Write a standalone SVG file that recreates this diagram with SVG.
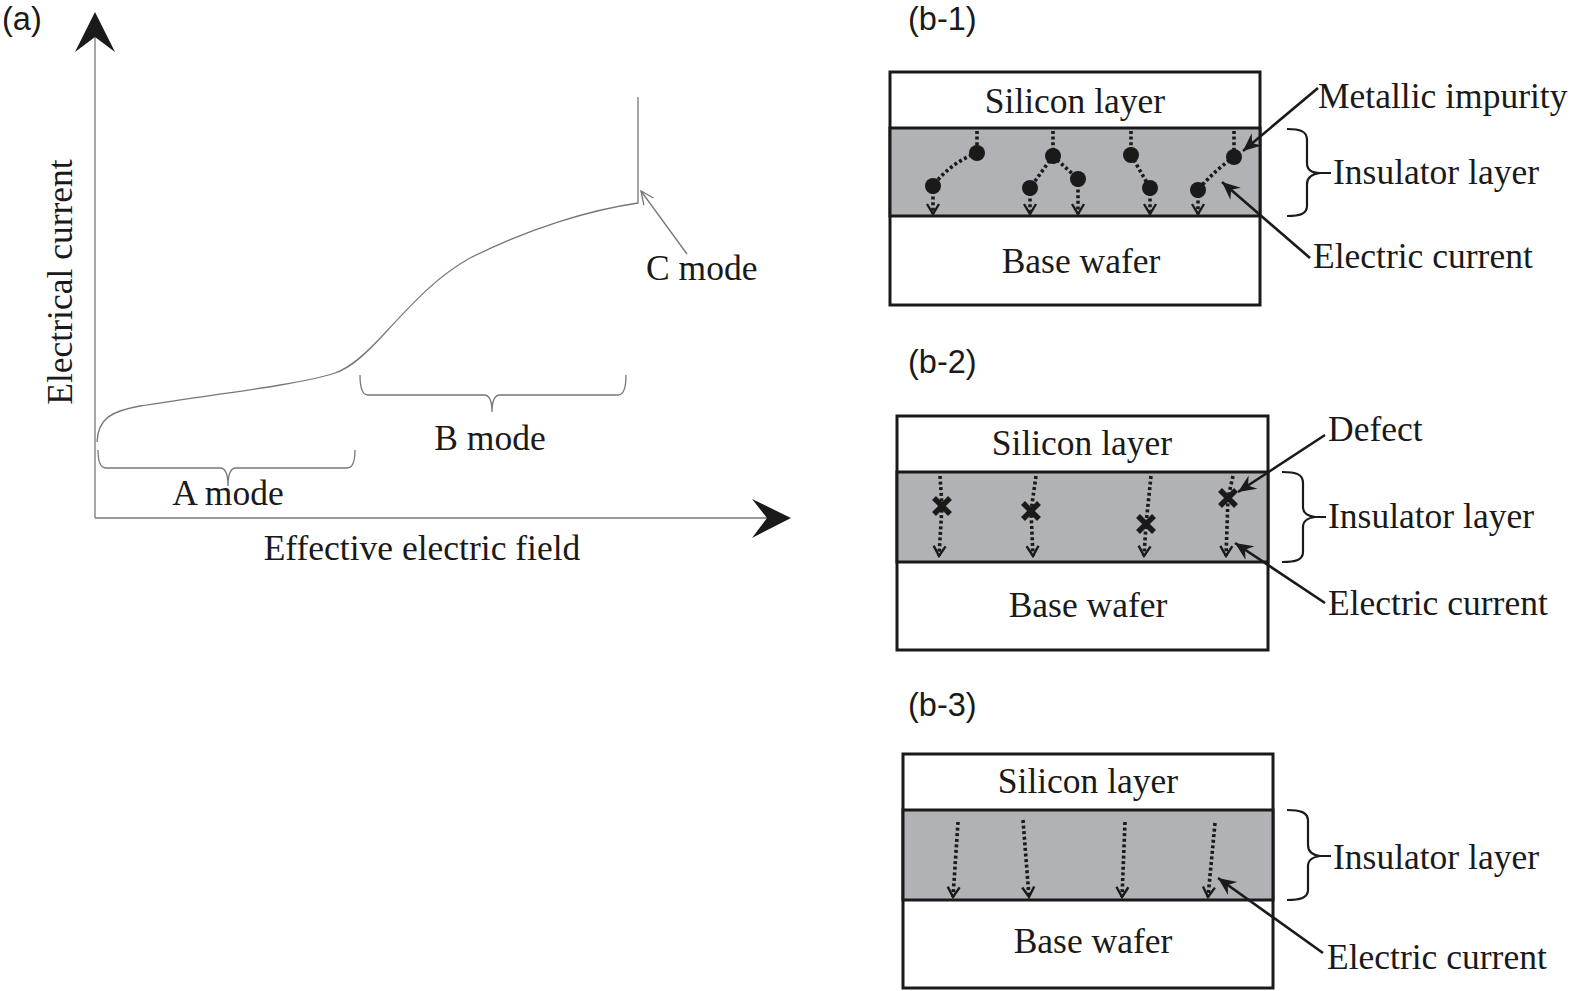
<svg xmlns="http://www.w3.org/2000/svg" width="1571" height="991" viewBox="0 0 1571 991">
<style>
.serif{font-family:"Liberation Serif","Times New Roman",serif;font-size:35.5px;fill:#1a1a1a}
.sans{font-family:"Liberation Sans",Arial,sans-serif;font-size:32.5px;fill:#1a1a1a}
.mid{text-anchor:middle}
.thin{fill:none;stroke:#777;stroke-width:1.3}
.box{fill:#fff;stroke:#1a1a1a;stroke-width:3}
.ins{fill:#b1b2b5;stroke:#1a1a1a;stroke-width:3}
.dot{fill:none;stroke:#1a1a1a;stroke-width:3.6;stroke-dasharray:3 2.6}
.darr{fill:none;stroke:#1a1a1a;stroke-width:3.6;stroke-dasharray:3 2.6;marker-end:url(#chev)}
.lead{fill:none;stroke:#1a1a1a;stroke-width:2.6;marker-end:url(#stealth)}
.brace{fill:none;stroke:#1a1a1a;stroke-width:2.2}
.imp{fill:#1a1a1a}
.xm{stroke:#1a1a1a;stroke-width:5.5;stroke-linecap:butt}
</style>
<defs>
<marker id="chev" markerUnits="userSpaceOnUse" viewBox="-14 -9 16 18" refX="0" refY="0" markerWidth="16" markerHeight="18" orient="auto">
<path d="M-10,-6 L0,0 L-10,6" fill="none" stroke="#1a1a1a" stroke-width="2.4"/>
</marker>
<marker id="stealth" markerUnits="userSpaceOnUse" viewBox="-20 -10 22 20" refX="0" refY="0" markerWidth="22" markerHeight="20" orient="auto">
<path d="M0,0 L-18,-8 L-12,0 L-18,8 Z" fill="#1a1a1a"/>
</marker>
<marker id="openg" markerUnits="userSpaceOnUse" viewBox="-16 -8 18 16" refX="0" refY="0" markerWidth="18" markerHeight="16" orient="auto">
<path d="M-13,-6 L0,0 L-13,6" fill="none" stroke="#777" stroke-width="1.3"/>
</marker>
</defs>

<g id="panel-a">
<text class="sans" x="2" y="30">(a)</text>
<g id="axes">
<line class="thin" x1="95" y1="36" x2="95" y2="518"/>
<line class="thin" x1="95" y1="518" x2="768" y2="518"/>
<path d="M95,12 L115,52 L95,37 L75,52 Z" fill="#1a1a1a"/>
<path d="M791,518 L752,538 L767,518 L752,499 Z" fill="#1a1a1a"/>
</g>
<text class="serif mid" transform="translate(72,282) rotate(-90)">Electrical current</text>
<text class="serif mid" x="422" y="560">Effective electric field</text>
<path id="curve" class="thin" d="M97,442 C98,418 112,411 140,406 C200,396 300,385 335,373 C350,368 365,355 385,333 C420,295 440,275 470,258 C530,228 590,210 638,203 L638,97"/>
<path id="brace-a" class="thin" d="M98,450 Q98,468 106,468 L220,468 Q228,468 228,486 Q228,468 236,468 L347,468 Q355,468 355,450"/>
<path id="brace-b" class="thin" d="M360,375 Q360,395 368,395 L484,395 Q492,395 492,412 Q492,395 500,395 L618,395 Q626,395 626,375"/>
<text class="serif mid" x="228" y="505">A mode</text>
<text class="serif mid" x="490" y="450">B mode</text>
<line class="thin" x1="687" y1="254" x2="641" y2="191" marker-end="url(#openg)"/>
<text class="serif" x="646" y="280">C mode</text>
</g>

<g id="panel-b1">
<text class="sans" x="908" y="30">(b-1)</text>
<rect class="box" x="890" y="72" width="370" height="233"/>
<rect class="ins" x="890" y="128" width="370" height="88"/>
<text class="serif mid" x="1075" y="113">Silicon layer</text>
<text class="serif mid" x="1081" y="273">Base wafer</text>
<g id="paths-b1">
<path class="dot" d="M977,131 L977,150"/>
<path class="dot" d="M977,153 Q950,163 933,186"/>
<path class="darr" d="M933,191 L933,214"/>
<path class="dot" d="M1053,131 L1053,152"/>
<path class="dot" d="M1053,156 L1030,188"/>
<path class="dot" d="M1053,156 L1078,179"/>
<path class="darr" d="M1030,193 L1030,214"/>
<path class="darr" d="M1078,184 L1078,214"/>
<path class="dot" d="M1131,131 L1131,152"/>
<path class="dot" d="M1131,155 L1150,188"/>
<path class="darr" d="M1150,193 L1150,214"/>
<path class="dot" d="M1234,131 L1234,154"/>
<path class="dot" d="M1234,157 Q1215,170 1198,190"/>
<path class="darr" d="M1198,195 L1198,214"/>
</g>
<circle class="imp" cx="977" cy="153" r="8"/>
<circle class="imp" cx="933" cy="186" r="8"/>
<circle class="imp" cx="1053" cy="156" r="8"/>
<circle class="imp" cx="1030" cy="188" r="8"/>
<circle class="imp" cx="1078" cy="179" r="8"/>
<circle class="imp" cx="1131" cy="155" r="8"/>
<circle class="imp" cx="1150" cy="188" r="8"/>
<circle class="imp" cx="1234" cy="157" r="8"/>
<circle class="imp" cx="1198" cy="190" r="8"/>
<path class="brace" d="M1287,129 C1300,129 1307,131 1307,140 L1307,163 C1307,170 1312,173 1320,173 L1331,173 M1320,173 C1312,174 1307,177 1307,184 L1307,206 C1307,214 1300,216 1287,216"/>
<path class="lead" d="M1318,88 L1243,151"/>
<path class="lead" d="M1310,258 L1222,182"/>
<text class="serif" x="1318" y="108">Metallic impurity</text>
<text class="serif" x="1333" y="184">Insulator layer</text>
<text class="serif" x="1313" y="268">Electric current</text>
</g>

<g id="panel-b2">
<text class="sans" x="908" y="373">(b-2)</text>
<rect class="box" x="897" y="416" width="371" height="234"/>
<rect class="ins" x="897" y="472" width="371" height="90"/>
<text class="serif mid" x="1082" y="455">Silicon layer</text>
<text class="serif mid" x="1088" y="617">Base wafer</text>
<g id="paths-b2">
<path class="darr" d="M940,476 L942,506 L939,556"/>
<path class="darr" d="M1036,476 L1031,511 L1033,556"/>
<path class="darr" d="M1151,476 L1146,524 L1144,556"/>
<path class="darr" d="M1233,476 L1228,498 L1226,556"/>
</g>
<g id="defects">
<path class="xm" d="M934,498 L950,514 M950,498 L934,514"/>
<path class="xm" d="M1023,503 L1039,519 M1039,503 L1023,519"/>
<path class="xm" d="M1138,516 L1154,532 M1154,516 L1138,532"/>
<path class="xm" d="M1220,490 L1236,506 M1236,490 L1220,506"/>
</g>
<path class="brace" d="M1282,472 C1296,472 1303,474 1303,483 L1303,507 C1303,514 1308,516 1315,517 L1326,517 M1315,517 C1308,518 1303,520 1303,527 L1303,552 C1303,560 1296,562 1282,562"/>
<path class="lead" d="M1325,435 L1238,492"/>
<path class="lead" d="M1325,603 L1235,543"/>
<text class="serif" x="1328" y="441">Defect</text>
<text class="serif" x="1328" y="528">Insulator layer</text>
<text class="serif" x="1328" y="615">Electric current</text>
</g>

<g id="panel-b3">
<text class="sans" x="908" y="716">(b-3)</text>
<rect class="box" x="903" y="754" width="370" height="234"/>
<rect class="ins" x="903" y="810" width="370" height="90"/>
<text class="serif mid" x="1088" y="793">Silicon layer</text>
<text class="serif mid" x="1093" y="953">Base wafer</text>
<g id="paths-b3">
<path class="darr" d="M958,822 L953,897"/>
<path class="darr" d="M1023,820 L1029,897"/>
<path class="darr" d="M1125,822 L1122,897"/>
<path class="darr" d="M1215,823 L1208,897"/>
</g>
<path class="brace" d="M1287,810 C1300,810 1308,812 1308,821 L1308,845 C1308,852 1313,855 1320,856 L1331,856 M1320,856 C1313,857 1308,859 1308,866 L1308,890 C1308,898 1300,900 1287,900"/>
<path class="lead" d="M1323,953 L1218,878"/>
<text class="serif" x="1333" y="869">Insulator layer</text>
<text class="serif" x="1327" y="969">Electric current</text>
</g>
</svg>
